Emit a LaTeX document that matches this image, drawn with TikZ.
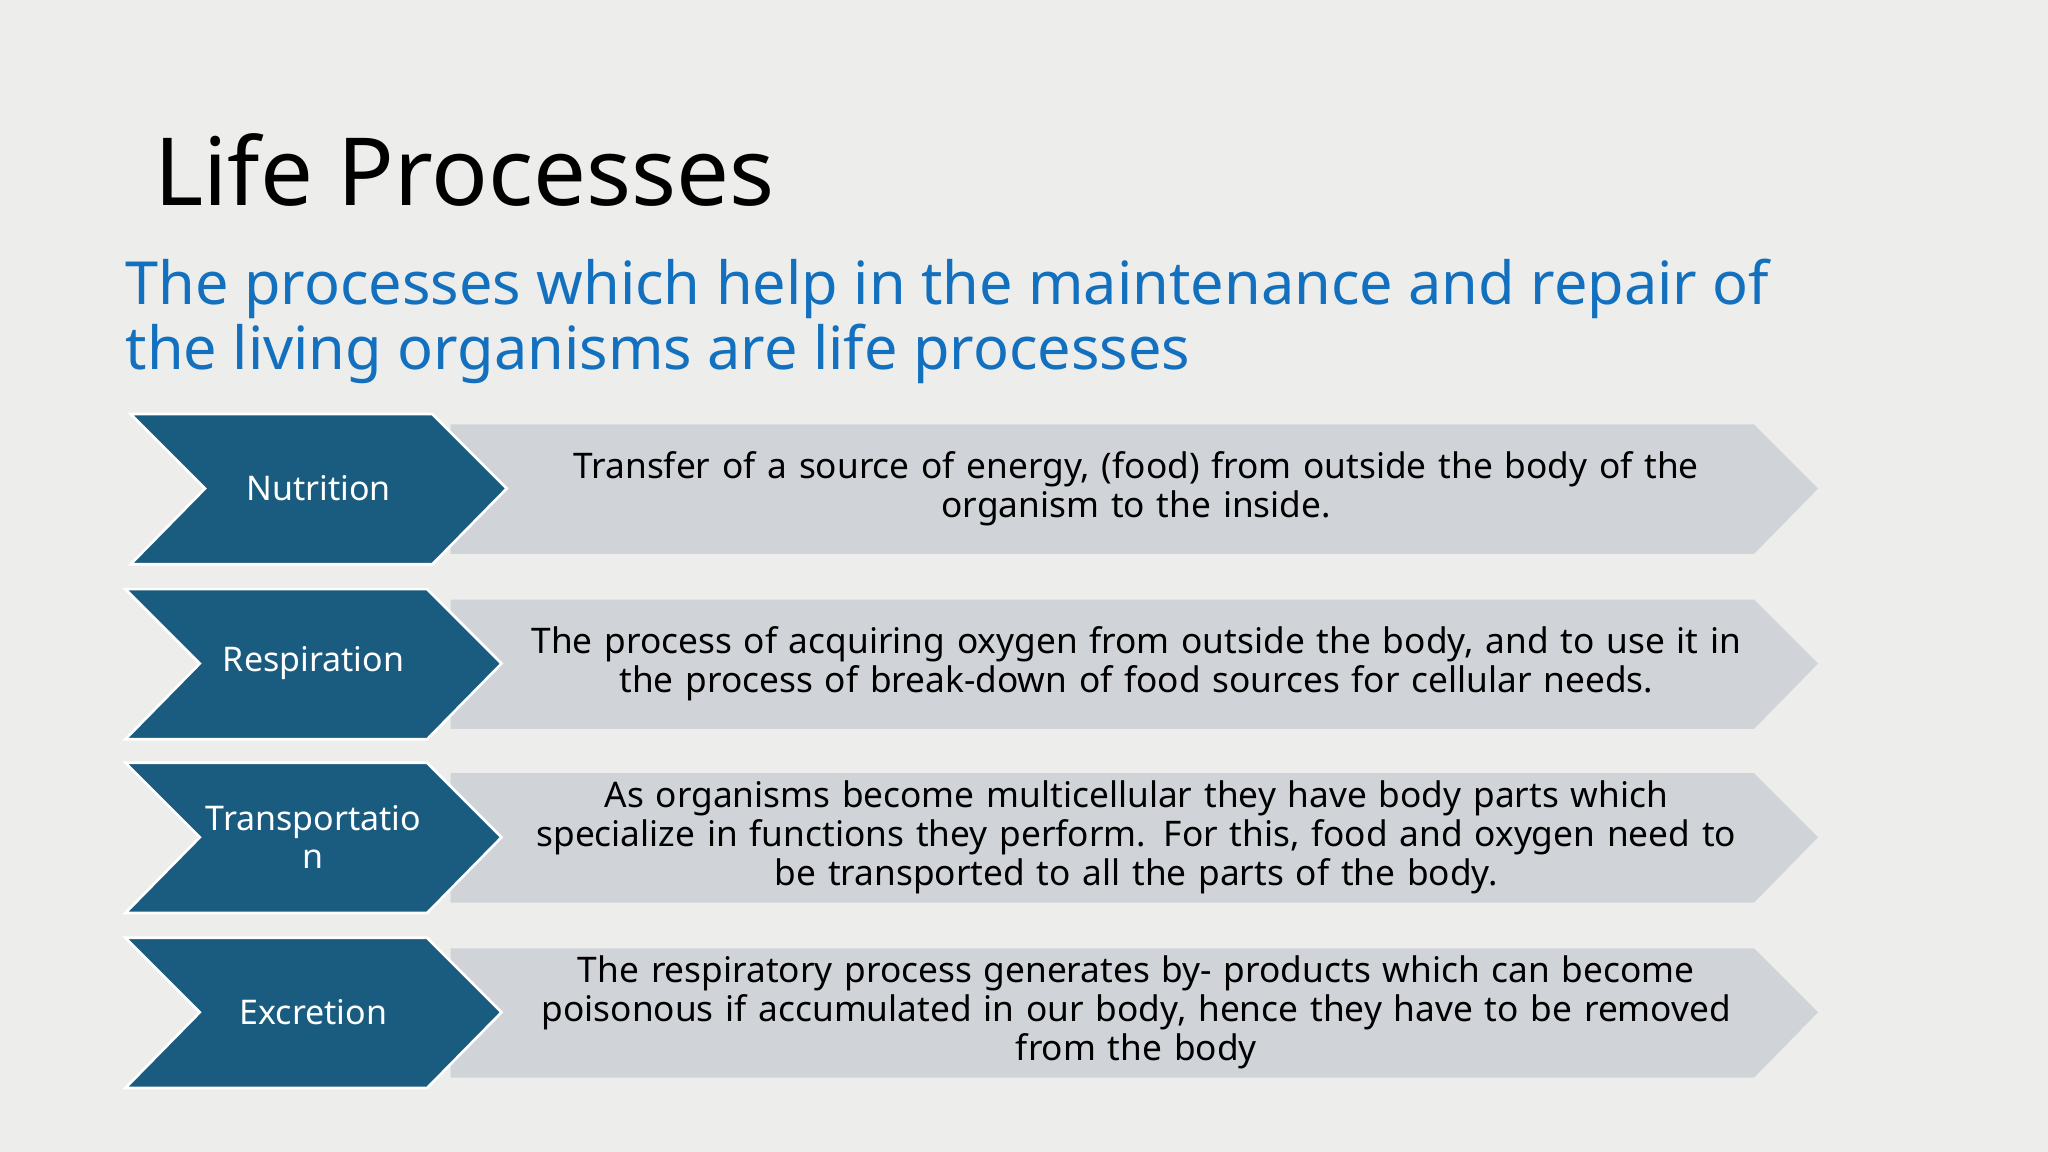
\documentclass[tikz,border=0pt]{standalone}
\usepackage{fontspec}
\setmainfont{Noto Sans}
\definecolor{bg}{HTML}{EDEEEB}
\definecolor{chev}{HTML}{1A5B80}
\definecolor{arr}{HTML}{D0D4D8}
\definecolor{sub}{HTML}{1370BE}
\begin{document}
\begin{tikzpicture}[x=1pt,y=-1pt,
 chevbox/.style={fill=chev,draw=white,line width=2pt},
 arrbox/.style={fill=arr},
 lbl/.style={text=white,font=\fontsize{26}{29}\selectfont,align=center,text width=200pt},
 body/.style={font=\fontsize{27}{30}\selectfont,align=center,text width=1000pt}]
\fill[bg] (0,0) rectangle (1568,882);
\useasboundingbox (0,0) rectangle (1568,882);
\node[anchor=base west,inner sep=0,font=\fontsize{72}{74}\selectfont] (title) at (118,157) {Life Processes};
\node[anchor=base west,inner sep=0,text=sub,align=left,font=\fontsize{45.5}{50}\selectfont] (subt) at (96,283) {The processes which help in the maintenance and repair of\\the living organisms are life processes};
\foreach \y/\dx/\nm/\lab/\txt in {
 374/4/n1/Nutrition/{Transfer of a source of energy, (food) from outside the body of the\\organism to the inside.},
 508/0/n2/Respiration/{The process of acquiring oxygen from outside the body, and to use it in\\the process of break-down of food sources for cellular needs.},
 641/0/n3/{Transportatio\\n}/{As organisms become multicellular they have body parts which\\specialize in functions they perform. For this, food and oxygen need to\\be transported to all the parts of the body.},
 775/0/n4/Excretion/{The respiratory process generates by- products which can become\\poisonous if accumulated in our body, hence they have to be removed\\from the body}} {
 \fill[arrbox] (345,\y-49) -- (1343,\y-49) -- (1392,\y) -- (1343,\y+50) -- (345,\y+50) -- cycle;
 \draw[chevbox] (96+\dx,\y-57) -- (327+\dx,\y-57) -- (384+\dx,\y) -- (327+\dx,\y+58) -- (96+\dx,\y+58) -- (153+\dx,\y) -- cycle;
 \node[lbl] (\nm) at (240+\dx,\y) {\lab};
 \node[body] (\nm t) at (870,\y) {\txt};
}
\end{tikzpicture}
\end{document}
